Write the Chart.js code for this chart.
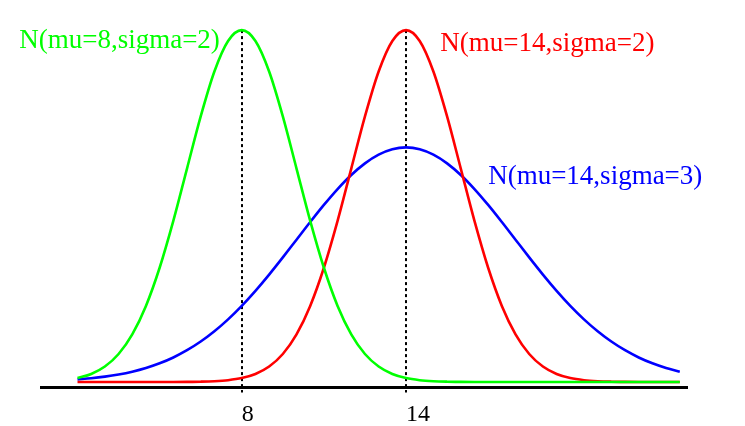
<!DOCTYPE html>
<html>
<head>
<meta charset="utf-8">
<script src="https://cdn.jsdelivr.net/npm/chart.js@4/dist/chart.umd.min.js"></script>
<style>
  html, body { margin: 0; padding: 0; background: #fff; }
  #wrap { width: 745px; height: 426px; }
</style>
</head>
<body>
<div id="wrap"><canvas id="normal-chart" width="745" height="426"></canvas></div>
<script>
// x values 2..24 step 0.5
const xValues = [
    2, 2.5, 3, 3.5, 4, 4.5, 5, 5.5, 6, 6.5, 7, 7.5, 8, 8.5, 9, 9.5, 10, 10.5, 11, 11.5, 12, 12.5,
    13, 13.5, 14, 14.5, 15, 15.5, 16, 16.5, 17, 17.5, 18, 18.5, 19, 19.5, 20, 20.5, 21, 21.5, 22, 22.5,
    23, 23.5, 24,
];

const greenValues = [
    0.00222, 0.00455, 0.00876, 0.01587, 0.02700, 0.04314, 0.06476, 0.09132, 0.12099, 0.15057, 0.17603, 0.19333,
    0.19947, 0.19333, 0.17603, 0.15057, 0.12099, 0.09132, 0.06476, 0.04314, 0.02700, 0.01587, 0.00876, 0.00455,
    0.00222, 0.00102, 0.00044, 0.00018, 0.00007, 0.00002, 0.00001, 0, 0, 0, 0, 0,
    0, 0, 0, 0, 0, 0, 0, 0, 0,
];

const redValues = [
    0, 0, 0, 0, 0, 0, 0, 0.00002, 0.00007, 0.00018, 0.00044, 0.00102,
    0.00222, 0.00455, 0.00876, 0.01587, 0.02700, 0.04314, 0.06476, 0.09132, 0.12099, 0.15057, 0.17603, 0.19333,
    0.19947, 0.19333, 0.17603, 0.15057, 0.12099, 0.09132, 0.06476, 0.04314, 0.02700, 0.01587, 0.00876, 0.00455,
    0.00222, 0.00102, 0.00044, 0.00018, 0.00007, 0.00002, 0.00001, 0, 0,
];

const blueValues = [
    0.00148, 0.00213, 0.00303, 0.00424, 0.00584, 0.00792, 0.01058, 0.01391, 0.01800, 0.02293, 0.02876, 0.03551,
    0.04317, 0.05167, 0.06088, 0.07063, 0.08066, 0.09068, 0.10038, 0.10939, 0.11736, 0.12395, 0.12889, 0.13195,
    0.13298, 0.13195, 0.12889, 0.12395, 0.11736, 0.10939, 0.10038, 0.09068, 0.08066, 0.07063, 0.06088, 0.05167,
    0.04317, 0.03551, 0.02876, 0.02293, 0.01800, 0.01391, 0.01058, 0.00792, 0.00584,
];

const seriesLabels = ['N(mu=8,sigma=2)', 'N(mu=14,sigma=2)', 'N(mu=14,sigma=3)'];
const seriesColors = ['#00ff00', '#ff0000', '#0000ff'];

const tickValues = [8, 14];
const tickLabels = ['8', '14'];
const peakValues = [0.19947, 0.19947];

const LABEL_FONT = '27px "Liberation Serif", serif';
const TICK_FONT = '24px "Liberation Serif", serif';

// where each curve's name sits (data units) and how it's anchored
const labelSpots = [
    { x: 7.2, y: 0.1893, align: 'right' },
    { x: 15.25, y: 0.1876, align: 'left' },
    { x: 17.0, y: 0.1122, align: 'left' },
];

const toPoints = (values) => values.map((v, i) => ({ x: xValues[i], y: v }));

const decorations = {
    id: 'decorations',
    beforeDatasetsDraw(chart) {
        const { ctx, chartArea, scales } = chart;
        ctx.save();
        ctx.strokeStyle = '#000';
        ctx.lineWidth = 2;
        ctx.setLineDash([3, 3]);
        tickValues.forEach((t, i) => {
            const px = Math.round(scales.x.getPixelForValue(t));
            ctx.beginPath();
            ctx.moveTo(px, scales.y.getPixelForValue(peakValues[i]));
            ctx.lineTo(px, chartArea.bottom + 5);
            ctx.stroke();
        });
        ctx.restore();
    },
    afterDatasetsDraw(chart) {
        const { ctx, chartArea, scales } = chart;
        ctx.save();
        // base axis
        ctx.strokeStyle = '#000';
        ctx.lineWidth = 3;
        ctx.beginPath();
        ctx.moveTo(chartArea.left, chartArea.bottom);
        ctx.lineTo(chartArea.right, chartArea.bottom);
        ctx.stroke();

        ctx.textBaseline = 'alphabetic';
        ctx.font = TICK_FONT;
        ctx.fillStyle = '#000';
        ctx.textAlign = 'left';
        tickValues.forEach((t, i) => {
            ctx.fillText(tickLabels[i], scales.x.getPixelForValue(t), chartArea.bottom + 33);
        });

        ctx.font = LABEL_FONT;
        labelSpots.forEach((spot, i) => {
            ctx.fillStyle = seriesColors[i];
            ctx.textAlign = spot.align;
            ctx.fillText(seriesLabels[i], scales.x.getPixelForValue(spot.x), scales.y.getPixelForValue(spot.y));
        });
        ctx.restore();
    },
};

new Chart(document.getElementById('normal-chart'), {
    type: 'line',
    data: {
        datasets: [
            { label: seriesLabels[0], data: toPoints(greenValues), borderColor: seriesColors[0] },
            { label: seriesLabels[1], data: toPoints(redValues), borderColor: seriesColors[1] },
            { label: seriesLabels[2], data: toPoints(blueValues), borderColor: seriesColors[2] },
        ].map((d) => ({
            ...d,
            borderWidth: 2.6,
            pointRadius: 0,
            fill: false,
            cubicInterpolationMode: 'monotone',
            clip: false,
        })),
    },
    options: {
        responsive: false,
        animation: false,
        devicePixelRatio: 1,
        layout: { padding: { left: 40, right: 57, top: 20, bottom: 38.5 } },
        plugins: {
            legend: { display: false },
            tooltip: { enabled: false },
        },
        scales: {
            x: { type: 'linear', min: 0.63, max: 24.3, display: false },
            y: { min: -0.00312, max: 0.2052, display: false },
        },
    },
    plugins: [decorations],
});
</script>
</body>
</html>
